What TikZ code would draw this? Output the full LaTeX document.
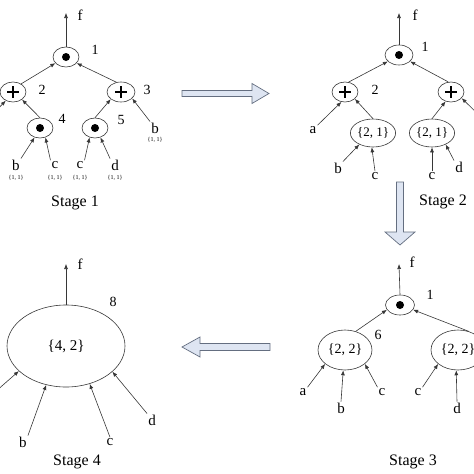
\documentclass[tikz,border=0pt]{standalone}
\usepackage{fontspec}
\setmainfont{Liberation Serif}
\usetikzlibrary{shapes.geometric,arrows.meta,calc}
\definecolor{edgec}{RGB}{55,55,55}
\definecolor{blockfill}{RGB}{222,229,242}
\definecolor{blockdraw}{RGB}{100,110,128}
\begin{document}
\begin{tikzpicture}[x=1pt,y=-1pt,
  lbl/.style={font=\fontsize{15}{15}\selectfont, inner sep=1pt},
  num/.style={font=\fontsize{14}{14}\selectfont, inner sep=1pt},
  tinylbl/.style={font=\fontsize{6}{6}\selectfont, inner sep=0pt},
  stagelbl/.style={font=\fontsize{16}{16}\selectfont, inner sep=0pt},
  op/.style={draw=edgec, line width=0.6pt, ellipse, minimum width=26pt, minimum height=20pt, inner sep=0pt},
  dotop/.style={op, path picture={\fill[black] (path picture bounding box.center) circle (4pt);}},
  plusop/.style={op, path picture={
      \draw[black,line width=2.6pt] ($(path picture bounding box.center)+(-6,0)$) -- ($(path picture bounding box.center)+(6,0)$);
      \draw[black,line width=2.6pt] ($(path picture bounding box.center)+(0,-6)$) -- ($(path picture bounding box.center)+(0,6)$);}},
  setnode/.style={draw=edgec, line width=0.6pt, ellipse, inner sep=0pt},
  arr/.style={-{Latex[length=5pt,width=4pt]}, line width=0.6pt, draw=edgec},
  blockarrow/.style={fill=blockfill, draw=blockdraw, line width=0.7pt, line join=miter}
]
\useasboundingbox (0,0) rectangle (474,474);
\clip (0,0) rectangle (474,474);

% ---------------- Stage 1 ----------------
\node[dotop] (a1) at (66,57) {};
\node[plusop] (a2) at (13,92) {};
\node[plusop, minimum width=28pt] (a3) at (121,92) {};
\node[dotop] (a4) at (40,128) {};
\node[dotop] (a5) at (95,128) {};
\node[lbl] (af) at (80,15) {f};
\coordinate (aftop) at (66,13);
\node[num] (an1) at (95,50) {1};
\node[num] (an2) at (42,90) {2};
\node[num] (an3) at (147,90) {3};
\node[num] (an4) at (62,119) {4};
\node[num] (an5) at (121,120) {5};
\coordinate (aa) at (-6,113);
\node[lbl] (ab1) at (16,165) {b};
\node[lbl] (ac1) at (55,165) {c};
\node[lbl] (ac2) at (80,165) {c};
\node[lbl] (ad1) at (115,165) {d};
\node[lbl] (ab2) at (155,128) {b};
\node[tinylbl] (at1) at (16,178) {\{1, 1\}};
\node[tinylbl] (at2) at (55,178) {\{1, 1\}};
\node[tinylbl] (at3) at (80,178) {\{1, 1\}};
\node[tinylbl] (at4) at (115,178) {\{1, 1\}};
\node[tinylbl] (at5) at (155,140) {\{1, 1\}};
\node[stagelbl] (as) at (75,203) {Stage 1};
\draw[arr] (a1.north) -- (aftop);
\draw[arr] (a2.45) -- (a1.-150);
\draw[arr] (a3.115) -- (a1.-30);
\draw[arr] (a4.north) -- (a2.-40);
\draw[arr] (aa) -- (a2.-130);
\draw[arr] (a5.north) -- (a3.-145);
\draw[arr] (ab2.north west) -- (a3.-30);
\draw[arr] (ab1.north east) -- (a4.-120);
\draw[arr] (ac1.north west) -- (a4.-60);
\draw[arr] (ac2.north east) -- (a5.-120);
\draw[arr] (ad1.north west) -- (a5.-60);

% ---------------- Stage 2 ----------------
\node[dotop, minimum width=28pt] (b1) at (399,55) {};
\node[plusop] (b2) at (345,92) {};
\node[plusop] (b3) at (451,92) {};
\node[setnode, minimum width=43pt, minimum height=28pt, font=\fontsize{13}{13}\selectfont] (b4) at (373,133) {\{2, 1\}};
\node[setnode, minimum width=43pt, minimum height=28pt, font=\fontsize{13}{13}\selectfont] (b5) at (432,133) {\{2, 1\}};
\node[lbl] (bf) at (415,15) {f};
\coordinate (bftop) at (399,13);
\node[num] (bn1) at (425,47) {1};
\node[num] (bn2) at (375,90) {2};
\node[lbl] (ba) at (313,130) {a};
\node[lbl] (bb1) at (338,168) {b};
\node[lbl] (bc1) at (375,176) {c};
\node[lbl] (bc2) at (432,176) {c};
\node[lbl] (bd) at (459,167) {d};
\coordinate (bb2) at (482,118);
\node[stagelbl] (bs) at (443,202) {Stage 2};
\draw[arr] (b1.north) -- (bftop);
\draw[arr] (b2.70) -- (b1.-150);
\draw[arr] (b3.105) -- (b1.-30);
\draw[arr] (ba.north east) -- (b2.-110);
\draw[arr] (b4.north) -- (b2.-35);
\draw[arr] (b5.north) -- (b3.-120);
\draw[arr] (bb2) -- (b3.-30);
\draw[arr] (bb1.north east) -- (b4.-140);
\draw[arr] (bc1.north) -- (b4.-95);
\draw[arr] (bc2.north) -- (b5.south);
\draw[arr] (bd.north west) -- (b5.-40);

% ---------------- Stage 3 ----------------
\node[dotop, minimum width=29pt] (c1) at (400,305) {};
\node[setnode, minimum width=54pt, minimum height=40pt, font=\fontsize{14}{14}\selectfont] (c2) at (345,350) {\{2, 2\}};
\node[setnode, minimum width=54pt, minimum height=40pt, font=\fontsize{14}{14}\selectfont] (c3) at (458,350) {\{2, 2\}};
\node[lbl] (cf) at (412,262) {f};
\coordinate (cftop) at (399,264);
\node[num] (cn1) at (430,295) {1};
\node[num] (cn6) at (378,335) {6};
\node[lbl] (ca) at (303,392) {a};
\node[lbl] (cb) at (341,408) {b};
\node[lbl] (cc1) at (382,392) {c};
\node[lbl] (cc2) at (418,392) {c};
\node[lbl] (cd) at (457,408) {d};
\node[stagelbl] (cs) at (413,462) {Stage 3};
\draw[arr] (c1.north) -- (cftop);
\draw[arr] (c2.60) -- (c1.-160);
\draw[arr] (c3.60) -- (c1.-20);
\draw[arr] (ca.north east) -- (c2.-145);
\draw[arr] (cb.north) -- (c2.-95);
\draw[arr] (cc1.north west) -- (c2.-35);
\draw[arr] (cc2.north east) -- (c3.-145);
\draw[arr] (cd.north) -- (c3.-95);

% ---------------- Stage 4 ----------------
\node[setnode, minimum width=118pt, minimum height=82pt, font=\fontsize{15}{15}\selectfont] (d1) at (66,346) {\{4, 2\}};
\node[lbl] (df) at (80,264) {f};
\coordinate (dftop) at (66,264);
\node[num] (dn8) at (113,302) {8};
\coordinate (da) at (-5,392);
\node[lbl] (db) at (23,442) {b};
\node[lbl] (dc) at (110,442) {c};
\node[lbl] (dd) at (152,420) {d};
\node[stagelbl] (ds) at (77,462) {Stage 4};
\draw[arr] (d1.north) -- (dftop);
\draw[arr] (da) -- (d1.-152);
\draw[arr] (db.north east) -- (d1.-117);
\draw[arr] (dc.north) -- (d1.-58);
\draw[arr] (dd.north west) -- (d1.-29);

% ---------------- block arrows ----------------
\draw[blockarrow] (182,90.5) -- (252,90.5) -- (252,83.5) -- (269,93.5) -- (252,103.5) -- (252,96.5) -- (182,96.5) -- cycle;
\draw[blockarrow] (396.5,182) -- (396.5,232) -- (385,232) -- (400,245) -- (415,232) -- (403.5,232) -- (403.5,182) -- cycle;
\draw[blockarrow] (270,343.5) -- (200,343.5) -- (200,337) -- (182,347) -- (200,357) -- (200,350.5) -- (270,350.5) -- cycle;
\end{tikzpicture}
\end{document}
